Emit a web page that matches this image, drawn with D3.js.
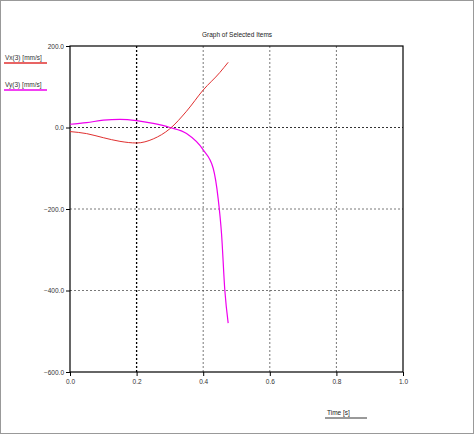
<!DOCTYPE html>
<html><head><meta charset="utf-8">
<script src="https://cdn.jsdelivr.net/npm/d3@7"></script>
<style>body{margin:0;background:#fff}svg{font-family:"Liberation Sans",Arial,sans-serif}</style>
</head><body>
<svg id="chart" width="474" height="434"></svg>
<script>
const xTicks = [0, 0.2, 0.4, 0.6, 0.8, 1.0];
const yTicks = [200, 0, -200, -400, -600];
const vxTime = [0, 0.05, 0.1, 0.15, 0.2, 0.25, 0.3, 0.35, 0.4, 0.45, 0.475];
const vxVals = [-10, -15, -25, -34, -38, -28, -3, 40, 92, 135, 160];
const vyTime = [0, 0.05, 0.1, 0.15, 0.2, 0.25, 0.3, 0.35, 0.4, 0.43, 0.445, 0.455, 0.465, 0.475];
const vyVals = [8, 12, 18, 20, 17, 10, 0, -15, -55, -100, -175, -260, -400, -480];

const svg = d3.select('#chart');
svg.append('rect').attr('x', 0.5).attr('y', 0.5).attr('width', 473).attr('height', 433)
  .attr('fill', 'none').attr('stroke', '#999');

const x = d3.scaleLinear().domain([0, 1]).range([70, 403]);
const y = d3.scaleLinear().domain([-600, 200]).range([372, 46]);

// grid
svg.append('g').selectAll('line').data(xTicks.slice(1, -1)).join('line')
  .attr('x1', d => x(d)).attr('x2', d => x(d)).attr('y1', y(200)).attr('y2', y(-600))
  .attr('stroke', d => d === 0.2 ? '#000' : '#555').attr('stroke-width', d => d === 0.2 ? 1.3 : 0.8)
  .attr('stroke-dasharray', '2,2');
svg.append('g').selectAll('line').data(yTicks.slice(1, -1)).join('line')
  .attr('x1', x(0)).attr('x2', x(1)).attr('y1', d => y(d)).attr('y2', d => y(d))
  .attr('stroke', d => d === 0 ? '#000' : '#555').attr('stroke-width', 0.8)
  .attr('stroke-dasharray', '2,2');

// frame
svg.append('rect').attr('x', x(0)).attr('y', y(200)).attr('width', x(1) - x(0)).attr('height', y(-600) - y(200))
  .attr('fill', 'none').attr('stroke', '#000').attr('stroke-width', 1.2);

const xAxis = svg.append('g').attr('transform', `translate(0,${y(-600)})`)
  .call(d3.axisBottom(x).tickValues(xTicks).tickFormat(d3.format('.1f')).tickSize(4).tickPadding(3));
const yAxis = svg.append('g').attr('transform', `translate(${x(0)},0)`)
  .call(d3.axisLeft(y).tickValues(yTicks).tickFormat(d3.format('.1f')).tickSize(4).tickPadding(2));
[xAxis, yAxis].forEach(a => {
  a.select('.domain').remove();
  a.selectAll('text').attr('font-size', 6.5).attr('fill', '#333');
});

const line = d3.line().curve(d3.curveMonotoneX);
svg.append('path').attr('d', line(vxTime.map((t, i) => [x(t), y(vxVals[i])])))
  .attr('fill', 'none').attr('stroke', '#e03030').attr('stroke-width', 1);
svg.append('path').attr('d', line(vyTime.map((t, i) => [x(t), y(vyVals[i])])))
  .attr('fill', 'none').attr('stroke', '#ee00ee').attr('stroke-width', 1.2);

svg.append('text').attr('x', 237).attr('y', 37).attr('text-anchor', 'middle')
  .attr('font-size', 6.5).attr('fill', '#222').text('Graph of Selected Items');

const legend = [['Vx(3) [mm/s]', '#e03030', 60], ['Vy(3) [mm/s]', '#ee00ee', 87]];
legend.forEach(([t, c, yy]) => {
  svg.append('text').attr('x', 5).attr('y', yy).attr('font-size', 6.5).attr('fill', '#333').text(t);
  svg.append('line').attr('x1', 4).attr('x2', 47).attr('y1', yy + 3).attr('y2', yy + 3)
    .attr('stroke', c).attr('stroke-width', 1.3);
});

svg.append('text').attr('x', 327).attr('y', 415).attr('font-size', 6.5).attr('fill', '#222').text('Time [s]');
svg.append('line').attr('x1', 325).attr('x2', 367).attr('y1', 418).attr('y2', 418).attr('stroke', '#000').attr('stroke-width', 0.8);
</script>
</body></html>
